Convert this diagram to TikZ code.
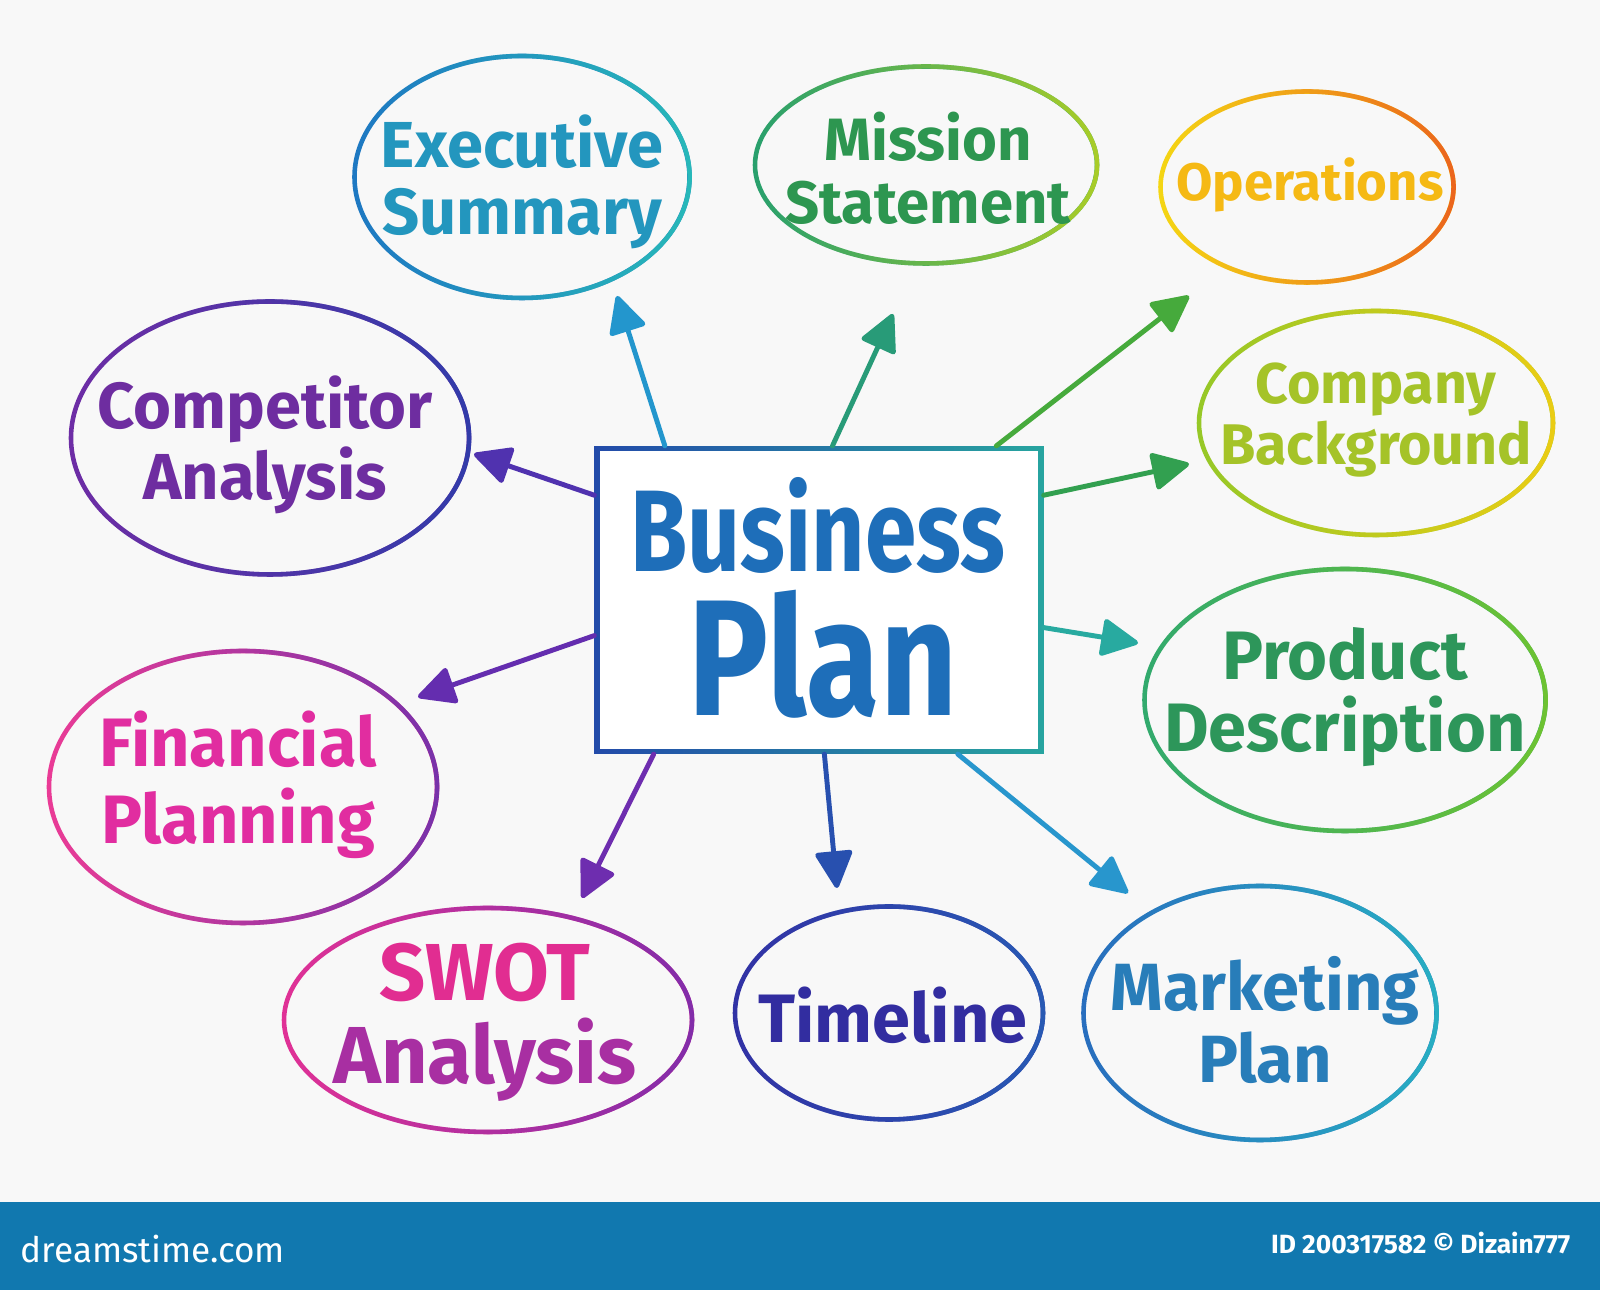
\documentclass[tikz,border=0pt]{standalone}
\usepackage{fontspec}
\setmainfont{Fira Sans}
\usetikzlibrary{arrows.meta,shapes.geometric,fadings}

% colours, left/right of each outline and its text
\definecolor{paper}{RGB}{248,248,248}
\definecolor{banner}{RGB}{17,120,175}
\definecolor{bpL}{RGB}{35,75,170}     \definecolor{bpR}{RGB}{40,165,160}   \definecolor{bptxt}{RGB}{30,110,185}
\definecolor{esL}{RGB}{30,120,195}    \definecolor{esR}{RGB}{40,185,185}   \definecolor{estxt}{RGB}{35,150,190}
\definecolor{msL}{RGB}{40,160,110}    \definecolor{msR}{RGB}{170,205,40}   \definecolor{mstxt}{RGB}{45,150,80}
\definecolor{opL}{RGB}{245,215,20}    \definecolor{opR}{RGB}{235,100,30}   \definecolor{optxt}{RGB}{245,185,20}
\definecolor{cbL}{RGB}{150,200,40}    \definecolor{cbR}{RGB}{235,205,20}   \definecolor{cbtxt}{RGB}{165,195,40}
\definecolor{pdL}{RGB}{50,170,110}    \definecolor{pdR}{RGB}{110,195,50}   \definecolor{pdtxt}{RGB}{45,150,90}
\definecolor{mpL}{RGB}{40,110,190}    \definecolor{mpR}{RGB}{40,175,195}   \definecolor{mptxt}{RGB}{40,125,185}
\definecolor{tlL}{RGB}{50,50,165}     \definecolor{tlR}{RGB}{40,90,180}    \definecolor{tltxt}{RGB}{50,45,160}
\definecolor{swL}{RGB}{225,50,150}    \definecolor{swR}{RGB}{130,45,170}   \definecolor{swtxt}{RGB}{225,45,145}
\definecolor{fpL}{RGB}{235,60,150}    \definecolor{fpR}{RGB}{120,50,170}   \definecolor{fptxt}{RGB}{225,45,160}
\definecolor{caL}{RGB}{110,45,165}    \definecolor{caR}{RGB}{50,60,170}    \definecolor{catxt}{RGB}{110,45,160}

\tikzfading[name=toright, left color=transparent!100, right color=transparent!0]

\tikzset{
  grad/.style 2 args={draw=#1, postaction={draw=#2, path fading=toright}},
  idea/.style={ellipse, line width=1.3pt, inner sep=0pt},
  lbl/.style={align=center, inner sep=0pt},
  link/.style={line width=1.4pt, line cap=round, -{Triangle[length=4mm,width=3.9mm,round]}},
}

\begin{document}
\begin{tikzpicture}[x=0.1mm,y=-0.1mm]
	\useasboundingbox (0,0) rectangle (1600,1290);
	\fill[paper] (0,0) rectangle (1600,1290);
	\fill[banner] (0,1202) rectangle (1600,1290);
	\node[anchor=base west, inner sep=0pt, text=white, font=\fontsize{10}{12}\selectfont] (site) at (20,1262) {dreamstime.com};
	\node[anchor=base east, inner sep=0pt, text=white, font=\fontsize{7.5}{9}\selectfont\bfseries] (imgid) at (1571,1253) {ID 200317582 © Dizain777};

	% centre box
	\node[draw, grad={bpL}{bpR}, line width=1.5pt, fill=white, minimum width=44.4mm, minimum height=30.3mm] (bp) at (819,600) {};
	\node[lbl, anchor=base, text=bptxt, font=\fontsize{33}{33}\selectfont\bfseries] (bpa) at (818,572) {\scalebox{0.8}[1]{Business}};
	\node[lbl, anchor=base, text=bptxt, font=\fontsize{47}{47}\selectfont\bfseries] (bpb) at (823,716) {\scalebox{0.81}[1]{Plan}};

	% the ten ideas
	\node[idea, grad={esL}{esR}, minimum width=33.5mm, minimum height=24.2mm] (es) at (522,177) {};
	\node[lbl, text=estxt, font=\fontsize{18.5}{19}\selectfont\bfseries] at (522,182) {Executive\\Summary};

	\node[idea, grad={msL}{msR}, minimum width=34.2mm, minimum height=19.7mm] (ms) at (926,165) {};
	\node[lbl, text=mstxt, font=\fontsize{17}{18}\selectfont\bfseries] at (928,168) {Mission\\Statement};

	\node[idea, grad={opL}{opR}, minimum width=29.3mm, minimum height=19.1mm] (op) at (1307,187) {};
	\node[lbl, text=optxt, font=\fontsize{15}{15}\selectfont\bfseries] at (1310,185) {Operations};

	\node[idea, grad={cbL}{cbR}, minimum width=35.4mm, minimum height=22.4mm] (cb) at (1376,423) {};
	\node[lbl, text=cbtxt, font=\fontsize{16.3}{17.5}\selectfont\bfseries] at (1376,420) {Company\\Background};

	\node[idea, grad={pdL}{pdR}, minimum width=40.1mm, minimum height=26.2mm] (pd) at (1345,700) {};
	\node[lbl, text=pdtxt, font=\fontsize{19.5}{20.5}\selectfont\bfseries] at (1345,697) {Product\\Description};

	\node[idea, grad={mpL}{mpR}, minimum width=35.3mm, minimum height=25.4mm] (mp) at (1260,1013) {};
	\node[lbl, text=mptxt, font=\fontsize{19}{20.5}\selectfont\bfseries] at (1265,1020) {Marketing\\Plan};

	\node[idea, grad={tlL}{tlR}, minimum width=30.8mm, minimum height=21.3mm] (tl) at (889,1013) {};
	\node[lbl, text=tltxt, font=\fontsize{19.5}{17}\selectfont\bfseries] at (893,1015) {Timeline};

	\node[idea, grad={swL}{swR}, minimum width=40.8mm, minimum height=22.4mm] (sw) at (488,1020) {};
	\node[lbl, text=swtxt, font=\fontsize{23}{23.5}\selectfont\bfseries] at (485,1022) {SWOT\\\color{swR!60!swL}Analysis};

	\node[idea, grad={fpL}{fpR}, minimum width=38.8mm, minimum height=27.2mm] (fp) at (243,787) {};
	\node[lbl, text=fptxt, font=\fontsize{19.5}{22}\selectfont\bfseries] at (238,785) {Financial\\Planning};

	\node[idea, grad={caL}{caR}, minimum width=39.8mm, minimum height=27.3mm] (ca) at (270,438) {};
	\node[lbl, text=catxt, font=\fontsize{18.5}{20}\selectfont\bfseries] at (265,445) {Competitor\\Analysis};

	% arrow tips, free ends
	\coordinate (esT) at (617,296);
	\coordinate (msT) at (893,314);
	\coordinate (opT) at (1189,296);
	\coordinate (cbT) at (1189,464);
	\coordinate (pdT) at (1138,643);
	\coordinate (mpT) at (1128,893);
	\coordinate (tlT) at (837,888);
	\coordinate (swT) at (582,898);
	\coordinate (fpT) at (418,697);
	\coordinate (caT) at (474,454);

	\draw[link, color={rgb,255:red,35;green,150;blue,205}] (bp.135) -- (esT);
	\draw[link, color={rgb,255:red,40;green,155;blue,120}] (bp.85) -- (msT);
	\draw[link, color={rgb,255:red,70;green,170;blue,60}] (bp.41) -- (opT);
	\draw[link, color={rgb,255:red,50;green,160;blue,80}] (bp.25) -- (cbT);
	\draw[link, color={rgb,255:red,40;green,170;blue,160}] (bp.-7) -- (pdT);
	\draw[link, color={rgb,255:red,40;green,150;blue,205}] (bp.-48) -- (mpT);
	\draw[link, color={rgb,255:red,40;green,80;blue,175}] (bp.-88) -- (tlT);
	\draw[link, color={rgb,255:red,110;green,45;blue,175}] (bp.-137) -- (swT);
	\draw[link, color={rgb,255:red,100;green,45;blue,175}] (bp.189) -- (fpT);
	\draw[link, color={rgb,255:red,80;green,50;blue,175}] (bp.155) -- (caT);
\end{tikzpicture}
\end{document}
